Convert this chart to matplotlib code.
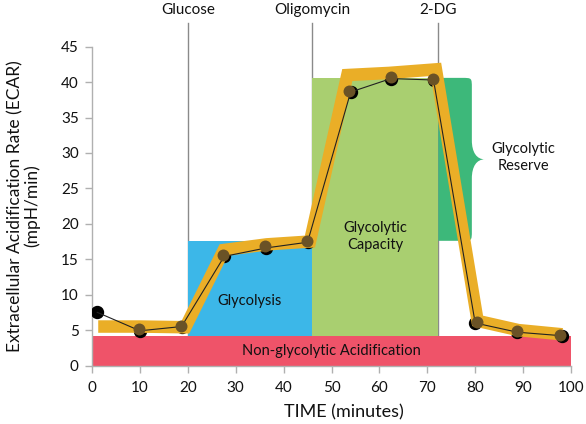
import matplotlib
matplotlib.use("Agg")
import matplotlib.pyplot as plt
from matplotlib.patches import Rectangle, PathPatch
from matplotlib.path import Path

plt.rcParams['font.family'] = ['Lato', 'DejaVu Sans']

# measured ECAR trace (black points)
time_min = [1.1, 10.0, 18.7, 27.6, 36.4, 45.0, 54.0, 62.4, 71.3, 80.0, 88.8, 98.1]
ecar = [7.5, 4.9, 5.5, 15.4, 16.6, 17.4, 38.6, 40.5, 40.3, 6.0, 4.7, 4.2]

# highlighted trace (orange band and its brown points)
band_time = [1.3, 10.0, 19.5, 27.5, 36.5, 45.5, 53.3, 62.0, 71.8, 80.5, 89.0, 98.2]
band_ecar = [5.5, 5.5, 5.4, 16.3, 17.1, 17.5, 41.0, 41.3, 41.8, 6.3, 5.0, 4.4]
hl_time = [9.9, 18.6, 27.3, 36.1, 44.8, 53.7, 62.4, 71.1, 80.4, 88.8, 97.7]
hl_ecar = [5.1, 5.6, 15.6, 16.8, 17.6, 38.8, 40.7, 40.4, 6.2, 4.9, 4.3]

# injections
inj_names = ['Glucose', 'Oligomycin', '2-DG']
inj_times = [20, 46, 72.3]

# levels of the shaded regions
non_glyco = 4.2
glyco_level = 17.6
capacity_level = 40.6

RED = '#ef5369'
BLUE = '#3cb7e8'
LGREEN = '#a9cf70'
DGREEN = '#3db87a'
ORANGE = '#eaae27'
BROWN = '#6a5226'

fig = plt.figure(figsize=(5.86, 4.24), dpi=100)
ax = fig.add_axes([92 / 586, 58.5 / 424, 479 / 586, 318.8 / 424])
ax.set_xlim(0, 100)
ax.set_ylim(0, 45)

# injection lines + labels
for name, t in zip(inj_names, inj_times):
    ax.plot([t, t], [non_glyco, 48.35], color='#8a8a8a', lw=1, zorder=0.5, clip_on=False)
    ax.text(t, 50.2, name, ha='center', va='center', fontsize=11, color='#111', clip_on=False)

# shaded regions
ax.add_patch(Rectangle((0, 0), 100, non_glyco, color=RED, lw=0, zorder=1))
ax.add_patch(Rectangle((inj_times[0], non_glyco), inj_times[1] - inj_times[0],
                       glyco_level - non_glyco, color=BLUE, lw=0, zorder=1))
ax.add_patch(Rectangle((inj_times[1], non_glyco), inj_times[2] - inj_times[1],
                       capacity_level - non_glyco, color=LGREEN, lw=0, zorder=1))

# glycolytic reserve: block with a curly brace on the right
x0 = inj_times[2]
xr, tip = 79.3, 82.0
yb, yt = glyco_level, capacity_level
ym = (yb + yt) / 2
rx, ry = 2.1, 1.4
verts = [
    (x0, yb),
    (xr - rx, yb),
    (xr, yb), (xr, yb), (xr, yb + ry),
    (xr, ym - 2.7),
    (xr, ym - 1.0), (xr + 1.0, ym), (tip, ym),
    (xr + 1.0, ym), (xr, ym + 1.0), (xr, ym + 2.7),
    (xr, yt - ry),
    (xr, yt), (xr, yt), (xr - rx, yt),
    (x0, yt),
    (x0, yb),
]
codes = [Path.MOVETO, Path.LINETO,
         Path.CURVE4, Path.CURVE4, Path.CURVE4,
         Path.LINETO,
         Path.CURVE4, Path.CURVE4, Path.CURVE4,
         Path.CURVE4, Path.CURVE4, Path.CURVE4,
         Path.LINETO,
         Path.CURVE4, Path.CURVE4, Path.CURVE4,
         Path.LINETO, Path.CLOSEPOLY]
ax.add_patch(PathPatch(Path(verts, codes), facecolor=DGREEN, lw=0, zorder=1))

# region labels
ax.text(32.8, 9.1, 'Glycolysis', ha='center', va='center', fontsize=10.5, color='#111', zorder=2)
ax.text(59.2, 18.2, 'Glycolytic\nCapacity', ha='center', va='center', fontsize=10.5,
        color='#111', linespacing=1.3, zorder=2)
ax.text(90.1, 29.4, 'Glycolytic\nReserve', ha='center', va='center', fontsize=10.5,
        color='#111', linespacing=1.3, zorder=2)
ax.text(50, 2.1, 'Non-glycolytic Acidification', ha='center', va='center', fontsize=10.5,
        color='#111', zorder=2)

# traces
ax.plot(time_min, ecar, 'o', color='black', ms=8.6, zorder=3)
ax.plot(band_time, band_ecar, color=ORANGE, lw=9, solid_joinstyle='miter',
        solid_capstyle='butt', zorder=4)
ax.plot(time_min, ecar, '-', color='#222', lw=0.8, zorder=5)
ax.plot(hl_time, hl_ecar, 'o', color=BROWN, ms=8.6, mew=0, zorder=6)

# axes styling
for s in ['top', 'right']:
    ax.spines[s].set_visible(False)
for s in ['left', 'bottom']:
    ax.spines[s].set_color('#b0b0b0')
    ax.spines[s].set_linewidth(1)
ax.set_xticks(range(0, 101, 10))
ax.set_yticks(range(0, 46, 5))
ax.tick_params(colors='#b0b0b0', labelcolor='#111', length=4.8, width=1, labelsize=11)
ax.tick_params(axis='x', pad=6)
ax.tick_params(axis='y', pad=4.8)

fig.text(23.5 / 586, (424 - 206) / 424, 'Extracellular Acidification Rate (ECAR)\n(mpH/min)',
         rotation=90, ha='center', va='center', ma='center', fontsize=12.5,
         linespacing=1.05, color='#111')
fig.text(344 / 586, (424 - 412) / 424, 'TIME (minutes)', ha='center', va='center',
         fontsize=13, color='#111')

fig.savefig('out.png', dpi=100)
